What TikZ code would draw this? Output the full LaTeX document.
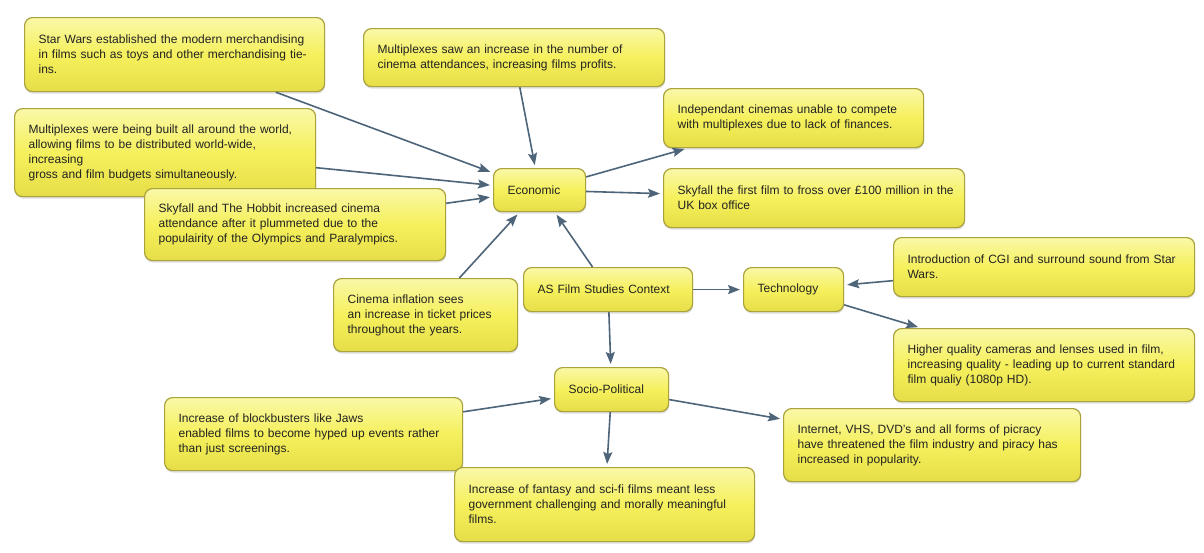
\documentclass[tikz,border=0pt]{standalone}
\usepackage{fontspec}
\setmainfont{Liberation Sans}
\usepackage{xcolor}
\usetikzlibrary{arrows.meta, shadows}

\definecolor{bordure}{HTML}{AAA23A}
\definecolor{jauneclair}{HTML}{FAF8A8}
\definecolor{jaune}{HTML}{F5F05C}
\definecolor{jaunefonce}{HTML}{E6DE48}
\definecolor{fleche}{HTML}{4E6579}
\definecolor{texte}{HTML}{222222}

\tikzset{
    bulle/.style={draw=bordure, line width=1.2pt, rounded corners=8pt,
        top color=jauneclair, bottom color=jaunefonce, middle color=jaune,
        drop shadow={shadow xshift=0.5pt, shadow yshift=-2pt, opacity=0.25},
        anchor=north west, align=left, inner xsep=14pt, inner ysep=0pt,
        text=texte, font=\fontsize{12}{15}\selectfont},
    lien/.style={->, draw=fleche, line width=1.6pt, shorten >=3pt}
}

\begin{document}
\begin{tikzpicture}[x=1pt, y=-1pt, >={Stealth[length=12pt, width=9pt, inset=2pt]}]
                % Cadre
                \fill[white] (0,0) rectangle (1204,552);
                \useasboundingbox (0,0) rectangle (1204,552);

                % Bulles economiques
                \node[bulle, text width=272pt, minimum height=74pt] (starwars) at (24,17)
                    {Star Wars established the modern merchandising\\in films such as toys and other merchandising tie-\\ins.};
                \node[bulle, text width=273pt, minimum height=88pt] (multiplexes) at (14,108)
                    {Multiplexes were being built all around the world,\\allowing films to be distributed world-wide,\\increasing\\gross and film budgets simultaneously.};
                \node[bulle, text width=273pt, minimum height=72pt] (hobbit) at (144,188)
                    {Skyfall and The Hobbit increased cinema\\attendance after it plummeted due to the\\populairity of the Olympics and Paralympics.};
                \node[bulle, text width=273pt, minimum height=58pt] (entrees) at (363,28)
                    {Multiplexes saw an increase in the number of\\cinema attendances, increasing films profits.};
                \node[bulle, text width=232pt, minimum height=59pt] (independants) at (663,88)
                    {Independant cinemas unable to compete\\with multiplexes due to lack of finances.};
                \node[bulle, text width=273pt, minimum height=59pt] (skyfall) at (663,168)
                    {\mbox{Skyfall the first film to fross over £100 million in the}\\UK box office};
                \node[bulle, text width=156pt, minimum height=73pt] (inflation) at (333,278)
                    {Cinema inflation sees\\an increase in ticket prices\\throughout the years.};

                % Bulles centrales
                \node[bulle, text width=64pt, minimum height=43pt] (economique) at (493,168) {Economic};
                \node[bulle, text width=141pt, minimum height=44pt] (contexte) at (523,267) {AS Film Studies Context};
                \node[bulle, text width=72pt, minimum height=44pt] (technologie) at (743,267) {Technology};
                \node[bulle, text width=86pt, minimum height=44pt] (sociopol) at (554,367) {Socio-Political};

                % Bulles technologiques
                \node[bulle, text width=273pt, minimum height=59pt] (cgi) at (893,237)
                    {Introduction of CGI and surround sound from Star\\Wars.};
                \node[bulle, text width=273pt, minimum height=73pt] (cameras) at (893,328)
                    {Higher quality cameras and lenses used in film,\\increasing quality - leading up to current standard\\film qualiy (1080p HD).};

                % Bulles socio-politiques
                \node[bulle, text width=270pt, minimum height=73pt] (jaws) at (164,397)
                    {Increase of blockbusters like Jaws\\enabled films to become hyped up events rather\\than just screenings.};
                \node[bulle, text width=272pt, minimum height=74pt] (fantasy) at (454,467)
                    {Increase of fantasy and sci-fi films meant less\\government challenging and morally meaningful\\films.};
                \node[bulle, text width=269pt, minimum height=73pt] (piratage) at (783,408)
                    {Internet, VHS, DVD's and all forms of picracy\\have threatened the film industry and piracy has\\increased in popularity.};

                % Fleches vers Economic
                \draw[lien] (starwars) -- (economique);
                \draw[lien] (multiplexes) -- (economique);
                \draw[lien] (hobbit) -- (economique);
                \draw[lien] (entrees) -- (economique);
                \draw[lien] (inflation) -- (economique);
                \draw[lien] (contexte) -- (economique);
                \draw[lien] (economique) -- (independants);
                \draw[lien] (economique) -- (skyfall);

                % Fleches vers Technology
                \draw[lien] (contexte) -- (technologie);
                \draw[lien] (cgi) -- (technologie);
                \draw[lien] (technologie) -- (cameras);

                % Fleches vers Socio-Political
                \draw[lien] (contexte) -- (sociopol);
                \draw[lien] (jaws) -- (sociopol);
                \draw[lien] (sociopol) -- (fantasy);
                \draw[lien] (sociopol) -- (piratage);
            \end{tikzpicture}
\end{document}
